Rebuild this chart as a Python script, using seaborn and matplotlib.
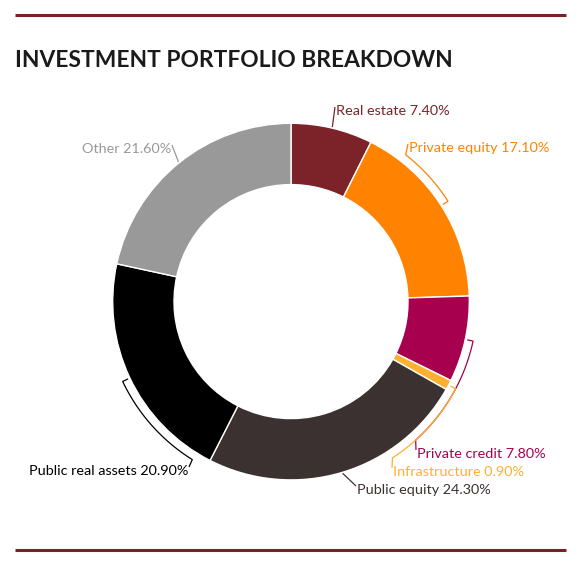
import numpy as np
import matplotlib
matplotlib.use("Agg")
import matplotlib.pyplot as plt
import seaborn as sns

# data
categories = ["Real estate", "Private equity", "Private credit", "Infrastructure",
              "Public equity", "Public real assets", "Other"]
shares = [7.40, 17.10, 7.80, 0.90, 24.30, 20.90, 21.60]
slice_colors = ["#7b2329", "#ff8200", "#a6004f", "#ffb02e", "#3b3130", "#000000", "#999999"]
text_colors = ["#7b2329", "#ff8200", "#a6004f", "#ffb02e", "#3b3130", "#000000", "#999999"]

sns.set_theme(style="white")
plt.rcParams["font.family"] = ["Lato", "DejaVu Sans"]

W, H = 581, 562
fig = plt.figure(figsize=(W / 100, H / 100), dpi=100)
ax = fig.add_axes([0, 0, 1, 1])

cx, cy = 291, H - 301.6
R, R_in = 178.3, 117

ax.pie(shares, colors=slice_colors, startangle=90, counterclock=False,
       radius=R, center=(cx, cy),
       wedgeprops=dict(width=R - R_in, edgecolor="white", linewidth=1.0))


def pt(theta, r):
    t = np.radians(theta)
    return cx + r * np.sin(t), cy + r * np.cos(t)


# label layout: (text x, text y from top, ha, arc end angle or None)
layout = {
    "Real estate": (336, 111, "left", None),
    "Private equity": (409, 148, "left", 38),
    "Private credit": (417, 454, "left", 138),
    "Infrastructure": (393, 472, "left", 147),
    "Public equity": (357, 490, "left", None),
    "Public real assets": (188, 471, "right", 212),
    "Other": (171, 149, "right", None),
}

cum = np.cumsum([0] + shares[:-1])
Rb = R + 8
for i, name in enumerate(categories):
    mid = (cum[i] + shares[i] / 2) / 100 * 360
    tx, ty, ha, th_end = layout[name]
    ty = H - ty
    col = text_colors[i]
    if th_end is None:
        x0, y0 = pt(mid, R + 1)
        xs, ys = [x0], [y0]
    else:
        x0, y0 = pt(mid, R + 2)
        xs, ys = [x0], [y0]
        for a in np.linspace(mid, th_end, 60):
            x1, y1 = pt(a, Rb)
            xs.append(x1)
            ys.append(y1)
    xs.append(tx + (-1 if ha == "left" else 1))
    ys.append(ty + 4)
    ax.plot(xs, ys, color=col, lw=0.9, solid_capstyle="butt")
    ax.text(tx, ty, f"{name} {shares[i]:.2f}%", color=col, fontsize=10.4,
            ha=ha, va="center")

# title and rules
ax.text(15, H - 67, "INVESTMENT PORTFOLIO BREAKDOWN", fontsize=16.4,
        fontweight="bold", color="#1a1a1a", ha="left", va="baseline")
ax.plot([15, 566], [H - 15, H - 15], color="#7a2027", lw=2.2, solid_capstyle="butt")
ax.plot([15, 566], [H - 550, H - 550], color="#7a2027", lw=2.2, solid_capstyle="butt")

ax.set_xlim(0, W)
ax.set_ylim(0, H)
ax.set_aspect("equal")
ax.set_axis_off()

fig.savefig("out.png", dpi=100, facecolor="white")
